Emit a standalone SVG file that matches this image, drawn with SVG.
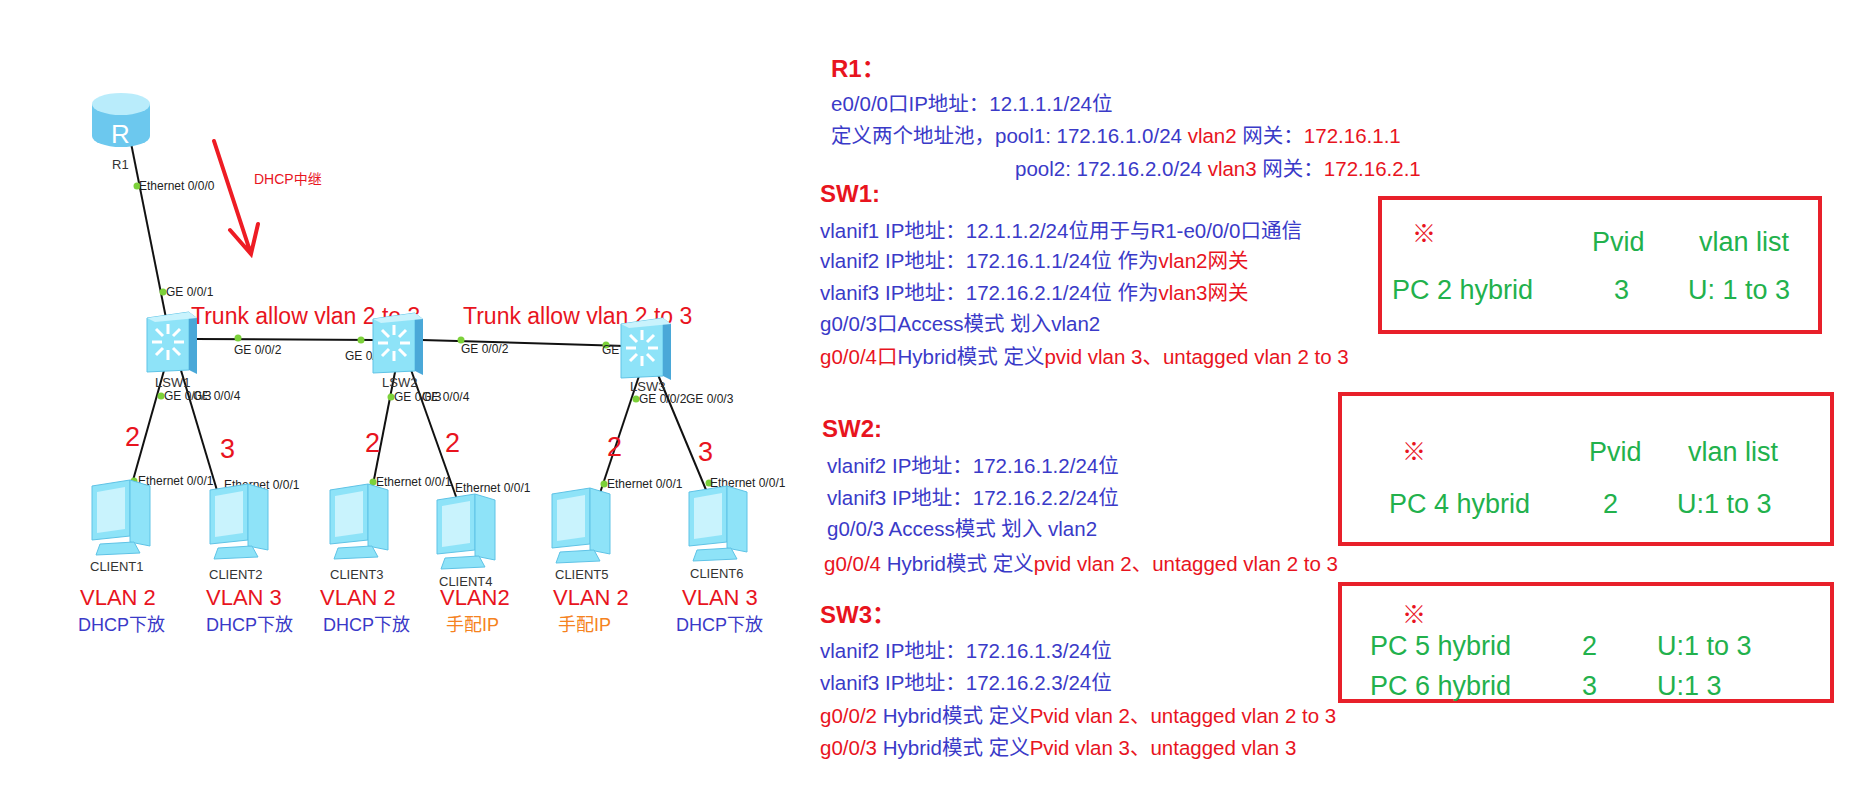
<svg xmlns="http://www.w3.org/2000/svg" width="1854" height="797" viewBox="0 0 1854 797">
<style>
.lbl{font-family:"Liberation Sans",Arial,sans-serif;font-size:12px;fill:#222}
.nm{font-family:"Liberation Sans",Arial,sans-serif;font-size:13px;fill:#333}
.num{font-family:"Liberation Sans",Arial,sans-serif;font-size:27px;fill:#e8141e}
.vl{font-family:"Liberation Sans",Arial,sans-serif;font-size:22px;fill:#e8141e}
.dh{font-family:"Liberation Sans","Noto Sans CJK SC",sans-serif;font-size:18px;fill:#3a3ac8}
.or{fill:#f58220}
.t{font-family:"Liberation Sans","Noto Sans CJK SC",sans-serif;font-size:20.5px;fill:#3a3ac8}
.r{fill:#e8141e}
.h{font-family:"Liberation Sans","Noto Sans CJK SC",sans-serif;font-size:24px;fill:#e8141e}
.g{font-family:"Liberation Sans",Arial,sans-serif;font-size:27px;fill:#22b14c}
.box{fill:none;stroke:#e8202a;stroke-width:4}
.ln{stroke:#111;stroke-width:2;fill:none}
.dot{fill:#7cd13a}
.ic{fill:#8ee3f8;stroke:#5fc3e6;stroke-width:1}
</style>
<defs>
<g id="pc"><path class="ic" d="M-28,-34 L10,-40 L10,16 L-28,20 Z"/><path d="M-23,-28 L5,-33 L5,9 L-23,13 Z" fill="#c9f3fd"/><path class="ic" d="M10,-40 L30,-34 L30,26 L10,22 Z"/><path class="ic" d="M-20,24 L14,22 L20,33 L-24,35 Z"/></g>
<g id="sw"><path class="ic" d="M-25,-24 L17,-30 L17,28 L-25,30 Z"/><path d="M17,-30 L25,-24 L25,32 L17,28 Z" fill="#4aa8d8"/><path d="M-25,-24 L17,-30 L25,-24 L-17,-20 Z" fill="#c9f3fd"/><g stroke="#fff" stroke-width="3"><path d="M-4,-8 L-4,-18 M-4,8 L-4,18 M-10,0 L-20,0 M2,0 L12,0 M-9,-6 L-16,-13 M1,6 L8,13 M1,-6 L8,-13 M-9,6 L-16,13"/></g></g>
</defs>
<g id="connectors">
<line class="ln" x1="131" y1="143" x2="166" y2="318"/>
<line class="ln" x1="195" y1="339" x2="375" y2="340"/>
<line class="ln" x1="422" y1="340" x2="625" y2="346"/>
<line class="ln" x1="165" y1="367" x2="126" y2="505"/>
<line class="ln" x1="180" y1="367" x2="219" y2="497"/>
<line class="ln" x1="396" y1="367" x2="370" y2="500"/>
<line class="ln" x1="410" y1="367" x2="459" y2="505"/>
<line class="ln" x1="641" y1="370" x2="596" y2="505"/>
<line class="ln" x1="656" y1="370" x2="709" y2="497"/>
<g class="dot"><circle cx="137" cy="186" r="3.5"/><circle cx="163" cy="292" r="3.5"/><circle cx="238" cy="338" r="3.5"/><circle cx="361" cy="340" r="3.5"/><circle cx="461" cy="340" r="3.5"/><circle cx="606" cy="345" r="3.5"/><circle cx="161" cy="396" r="3.5"/><circle cx="391" cy="397" r="3.5"/><circle cx="636" cy="399" r="3.5"/><circle cx="134" cy="481" r="3.5"/><circle cx="373" cy="482" r="3.5"/><circle cx="604" cy="484" r="3.5"/><circle cx="709" cy="483" r="3.5"/></g>
<path d="M214,141 L251,254 M230,230 L251,254 L258,224" stroke="#ee1c24" stroke-width="4" fill="none" stroke-linecap="round"/>
<text class="lbl" x="139" y="190">Ethernet 0/0/0</text>
<text class="lbl" x="166" y="296">GE 0/0/1</text>
<text class="lbl" x="234" y="354">GE 0/0/2</text>
<text class="lbl" x="345" y="360">GE 0/0/1</text>
<text class="lbl" x="461" y="353">GE 0/0/2</text>
<text class="lbl" x="602" y="354">GE 0/0/1</text>
<text class="lbl" x="164" y="400">GE 0/0/3</text>
<text class="lbl" x="193" y="400">GE 0/0/4</text>
<text class="lbl" x="394" y="401">GE 0/0/3</text>
<text class="lbl" x="422" y="401">GE 0/0/4</text>
<text class="lbl" x="639" y="403">GE 0/0/2</text>
<text class="lbl" x="686" y="403">GE 0/0/3</text>
<text class="lbl" x="138" y="485">Ethernet 0/0/1</text>
<text class="lbl" x="224" y="489">Ethernet 0/0/1</text>
<text class="lbl" x="376" y="486">Ethernet 0/0/1</text>
<text class="lbl" x="455" y="492">Ethernet 0/0/1</text>
<text class="lbl" x="607" y="488">Ethernet 0/0/1</text>
<text class="lbl" x="710" y="487">Ethernet 0/0/1</text>
<text class="num" x="125" y="446">2</text>
<text class="num" x="220" y="458">3</text>
<text class="num" x="365" y="452">2</text>
<text class="num" x="445" y="452">2</text>
<text class="num" x="607" y="456">2</text>
<text class="num" x="698" y="461">3</text>
<text x="191" y="324" font-family="Liberation Sans,Arial,sans-serif" font-size="23" fill="#e8141e">Trunk allow vlan 2 to 3</text>
<text x="463" y="324" font-family="Liberation Sans,Arial,sans-serif" font-size="23" fill="#e8141e">Trunk allow vlan 2 to 3</text>
<text x="254" y="184" font-family="Liberation Sans,'Noto Sans CJK SC',sans-serif" font-size="14" fill="#e8141e">DHCP中继</text>
</g>
<g id="R1"><path d="M92,104 L92,136 A29,11 0 0 0 150,136 L150,104 Z" fill="#6cc8ee"/><ellipse cx="121" cy="104" rx="29" ry="11" fill="#b9ecfb"/><text x="111" y="143" font-family="Liberation Sans,Arial,sans-serif" font-size="26" fill="#fff">R</text><text class="nm" x="112" y="169">R1</text></g>
<g id="LSW1"><use href="#sw" x="172" y="342"/><text class="nm" x="155" y="387">LSW1</text></g>
<g id="LSW2"><use href="#sw" x="398" y="343"/><text class="nm" x="382" y="387">LSW2</text></g>
<g id="LSW3"><use href="#sw" x="646" y="348"/><text class="nm" x="630" y="391">LSW3</text></g>
<g id="CLIENT1"><use href="#pc" x="120" y="520"/><text class="nm" x="90" y="571">CLIENT1</text><text class="vl" x="80" y="605">VLAN 2</text><text class="dh" x="78" y="631">DHCP下放</text></g>
<g id="CLIENT2"><use href="#pc" x="238" y="524"/><text class="nm" x="209" y="579">CLIENT2</text><text class="vl" x="206" y="605">VLAN 3</text><text class="dh" x="206" y="631">DHCP下放</text></g>
<g id="CLIENT3"><use href="#pc" x="358" y="524"/><text class="nm" x="330" y="579">CLIENT3</text><text class="vl" x="320" y="605">VLAN 2</text><text class="dh" x="323" y="631">DHCP下放</text></g>
<g id="CLIENT4"><use href="#pc" x="465" y="534"/><text class="nm" x="439" y="586">CLIENT4</text><text class="vl" x="440" y="605">VLAN2</text><text class="dh or" x="446" y="631">手配IP</text></g>
<g id="CLIENT5"><use href="#pc" x="580" y="528"/><text class="nm" x="555" y="579">CLIENT5</text><text class="vl" x="553" y="605">VLAN 2</text><text class="dh or" x="558" y="631">手配IP</text></g>
<g id="CLIENT6"><use href="#pc" x="717" y="526"/><text class="nm" x="690" y="578">CLIENT6</text><text class="vl" x="682" y="605">VLAN 3</text><text class="dh" x="676" y="631">DHCP下放</text></g>
<g id="notes">
<text class="h" x="831" y="77" font-weight="bold">R1：</text>
<text class="t" x="831" y="111">e0/0/0口IP地址：12.1.1.1/24位</text>
<text class="t" x="831" y="143">定义两个地址池，pool1: 172.16.1.0/24  <tspan class="r">vlan2</tspan>   网关：<tspan class="r">172.16.1.1</tspan></text>
<text class="t" x="1015" y="176">pool2: 172.16.2.0/24  <tspan class="r">vlan3</tspan>  网关：<tspan class="r">172.16.2.1</tspan></text>
<text class="h" x="820" y="202" font-weight="bold">SW1:</text>
<text class="t" x="820" y="238">vlanif1 IP地址：12.1.1.2/24位用于与R1-e0/0/0口通信</text>
<text class="t" x="820" y="268">vlanif2 IP地址：172.16.1.1/24位 作为<tspan class="r">vlan2网关</tspan></text>
<text class="t" x="820" y="300">vlanif3 IP地址：172.16.2.1/24位 作为<tspan class="r">vlan3网关</tspan></text>
<text class="t" x="820" y="331">g0/0/3口Access模式 划入vlan2</text>
<text class="t r" x="820" y="364">g0/0/4口<tspan fill="#3a3ac8">Hybrid模式 定义</tspan>pvid vlan 3、untagged vlan 2 to 3</text>
<text class="h" x="822" y="437" font-weight="bold">SW2:</text>
<text class="t" x="827" y="473">vlanif2 IP地址：172.16.1.2/24位</text>
<text class="t" x="827" y="505">vlanif3 IP地址：172.16.2.2/24位</text>
<text class="t" x="827" y="536">g0/0/3 Access模式 划入 vlan2</text>
<text class="t r" x="824" y="571">g0/0/4 <tspan fill="#3a3ac8">Hybrid模式 定义</tspan>pvid vlan 2、untagged vlan 2 to 3</text>
<text class="h" x="820" y="623" font-weight="bold">SW3：</text>
<text class="t" x="820" y="658">vlanif2 IP地址：172.16.1.3/24位</text>
<text class="t" x="820" y="690">vlanif3 IP地址：172.16.2.3/24位</text>
<text class="t r" x="820" y="723">g0/0/2 <tspan fill="#3a3ac8">Hybrid模式 定义</tspan>Pvid vlan 2、untagged vlan 2 to 3</text>
<text class="t r" x="820" y="755">g0/0/3 <tspan fill="#3a3ac8">Hybrid模式 定义</tspan>Pvid vlan 3、untagged vlan 3</text>
</g>
<g id="box1"><rect class="box" x="1380" y="198" width="440" height="134"/>
<text class="h" x="1412" y="242" font-size="20">※</text><text class="g" x="1592" y="251">Pvid</text><text class="g" x="1699" y="251">vlan list</text>
<text class="g" x="1392" y="299">PC 2  hybrid</text><text class="g" x="1614" y="299">3</text><text class="g" x="1688" y="299">U: 1 to 3</text></g>
<g id="box2"><rect class="box" x="1340" y="394" width="492" height="150"/>
<text class="h" x="1402" y="460" font-size="20">※</text><text class="g" x="1589" y="461">Pvid</text><text class="g" x="1688" y="461">vlan list</text>
<text class="g" x="1389" y="513">PC 4  hybrid</text><text class="g" x="1603" y="513">2</text><text class="g" x="1677" y="513">U:1 to 3</text></g>
<g id="box3"><rect class="box" x="1340" y="584" width="492" height="117"/>
<text class="h" x="1402" y="623" font-size="20">※</text>
<text class="g" x="1370" y="655">PC 5 hybrid</text><text class="g" x="1582" y="655">2</text><text class="g" x="1657" y="655">U:1 to 3</text>
<text class="g" x="1370" y="695">PC 6 hybrid</text><text class="g" x="1582" y="695">3</text><text class="g" x="1657" y="695">U:1 3</text></g>
</svg>
